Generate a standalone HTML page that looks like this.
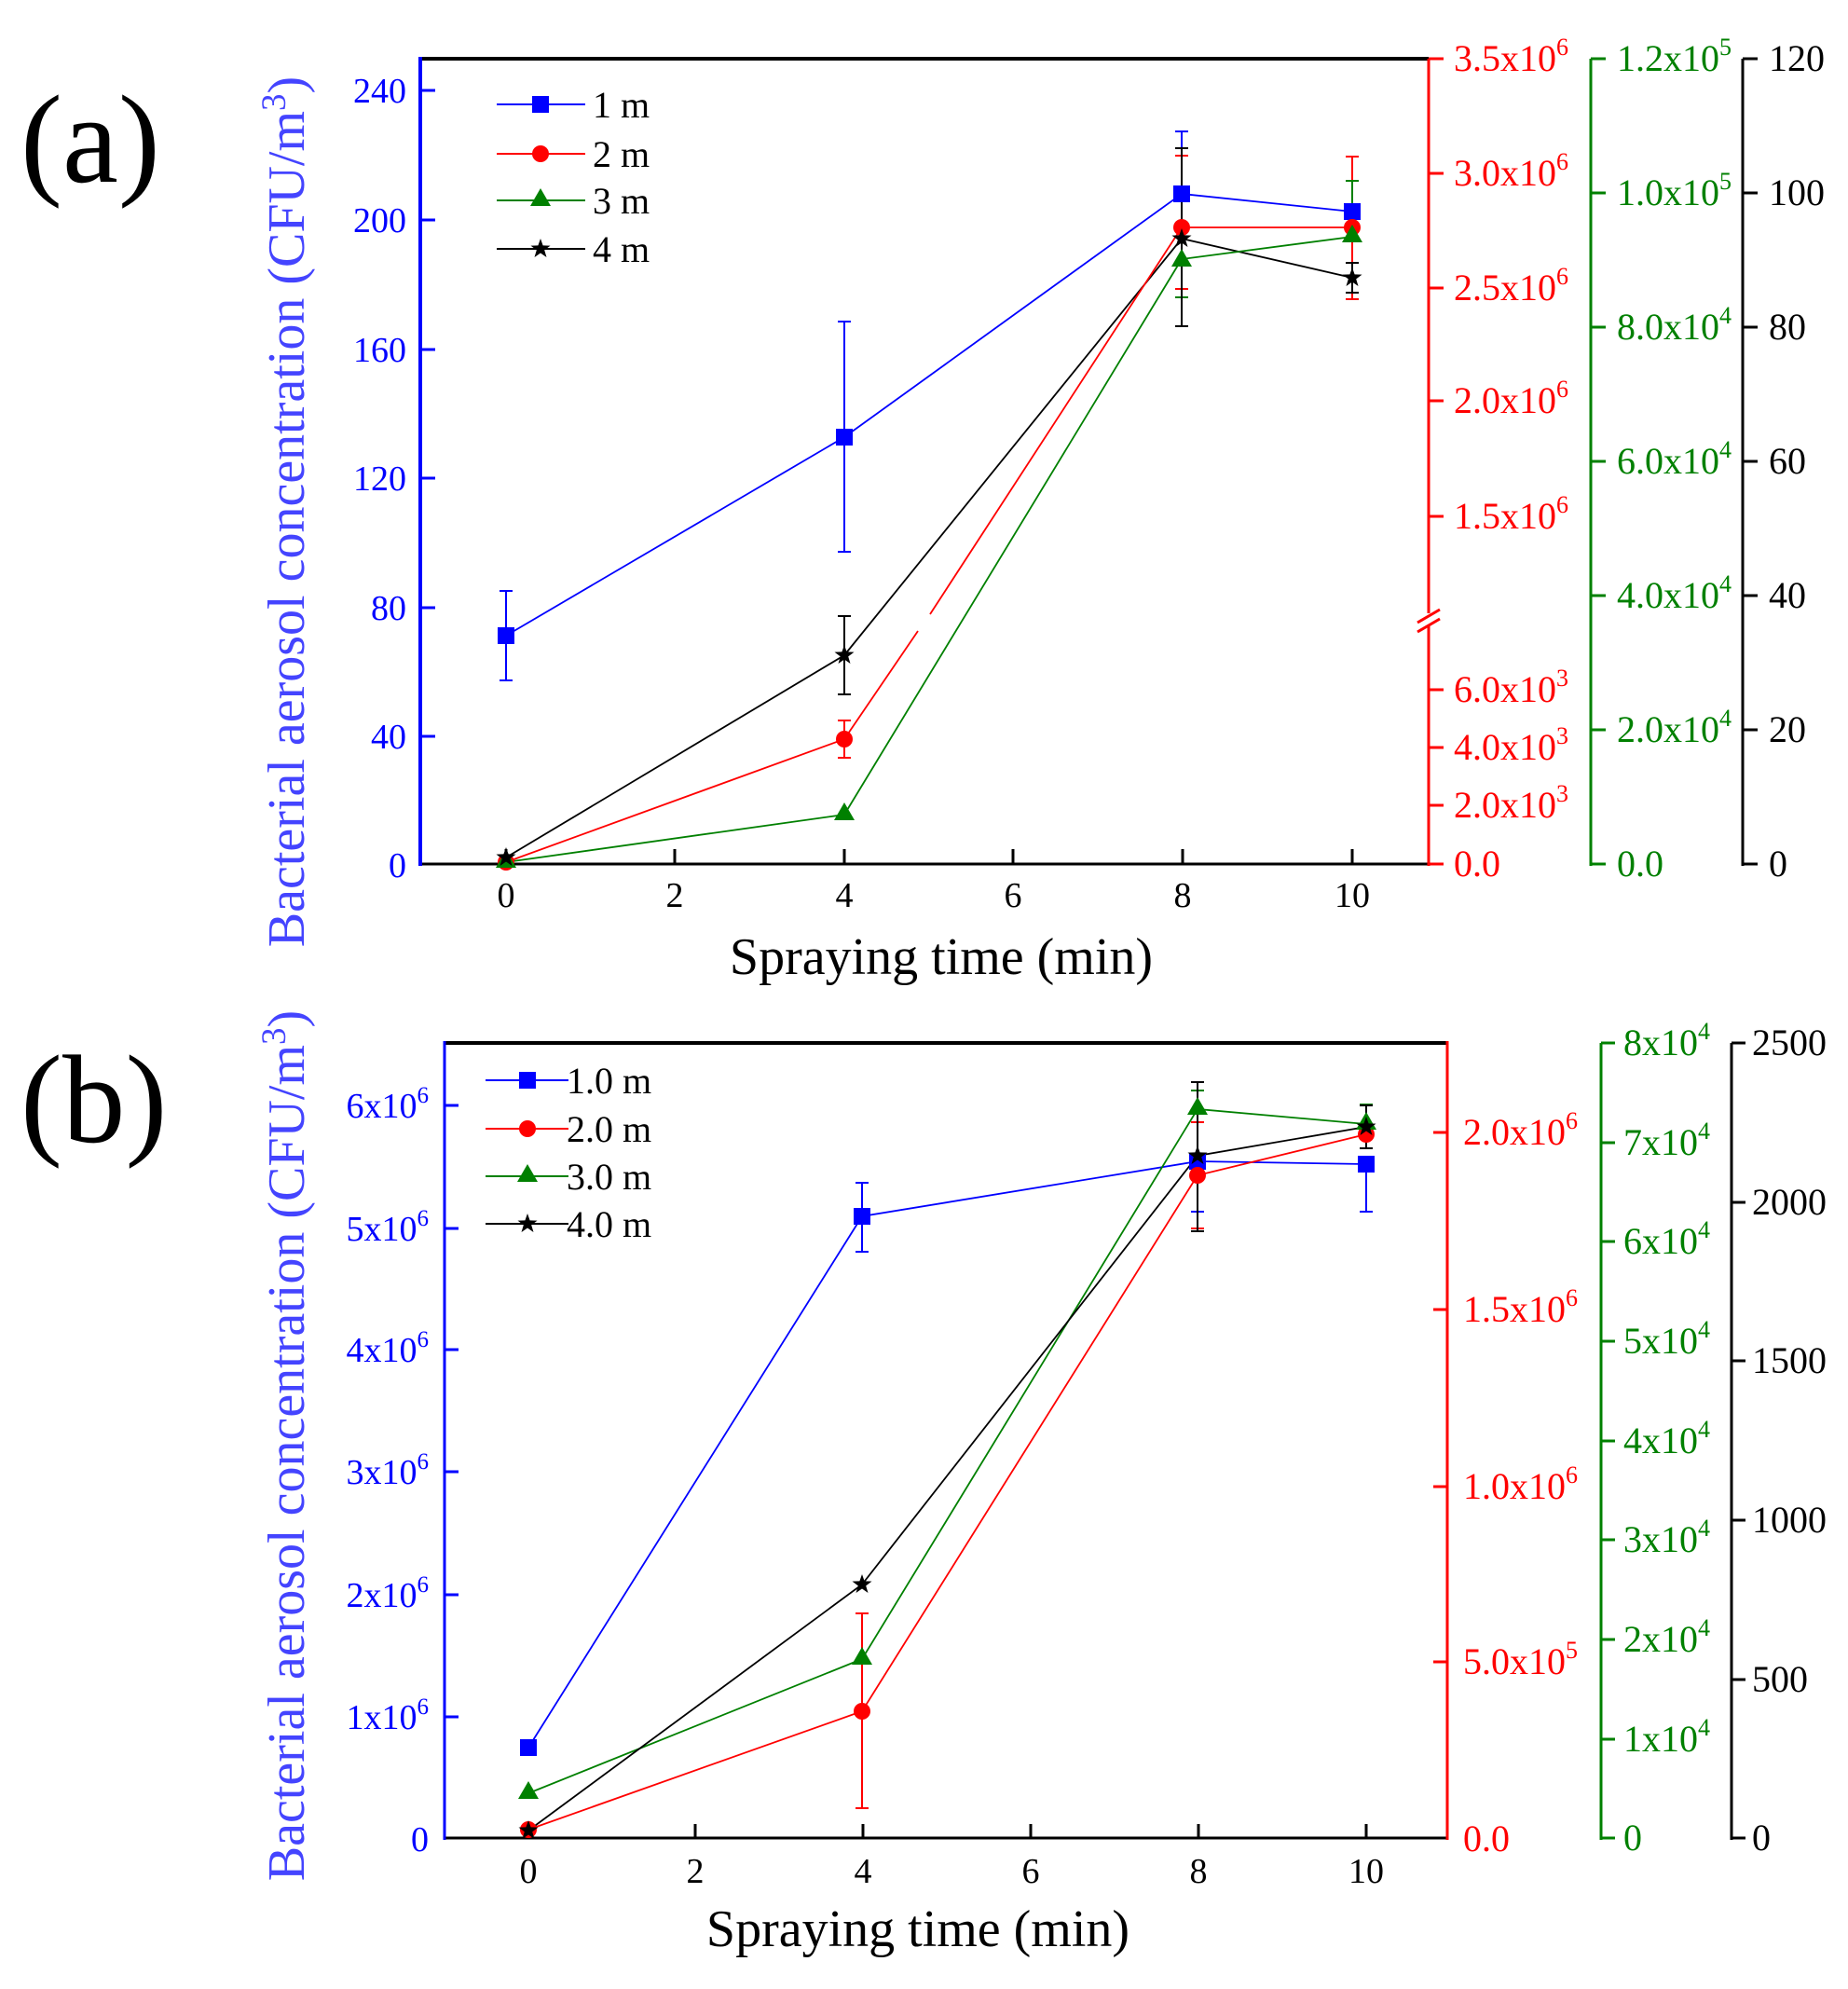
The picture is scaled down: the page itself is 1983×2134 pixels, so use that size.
<!DOCTYPE html>
<html><head><meta charset="utf-8"><style>
html,body{margin:0;padding:0;background:#fff;}
svg, svg text{font-family:"Liberation Serif","Times New Roman","DejaVu Serif",serif !important;}
</style></head><body>
<svg width="1983" height="2129" viewBox="0 0 1983 2129" xmlns="http://www.w3.org/2000/svg" font-family="Liberation Serif, Times New Roman, serif">
<defs>
<g id="sq"><rect x="-9" y="-9" width="18" height="18" fill="#0000ff"/></g>
<g id="ci"><circle r="9" fill="#ff0000"/></g>
<g id="tr"><polygon points="0,-11 11,8 -11,8" fill="#008000"/></g>
<g id="st"><polygon points="0,-11 2.6,-3.6 10.5,-3.4 4.2,1.4 6.5,9 0,4.5 -6.5,9 -4.2,1.4 -10.5,-3.4 -2.6,-3.6" fill="#000"/></g>
</defs>

<!-- ============ PANEL A ============ -->
<text x="22" y="195" font-size="135" fill="#000">(a)</text>
<text transform="translate(326,549) rotate(-90)" text-anchor="middle" font-size="56" fill="#4444ff">Bacterial aerosol concentration (CFU/m<tspan dy="-20" font-size="37">3</tspan><tspan dy="20">)</tspan></text>
<text x="1010" y="1045" text-anchor="middle" font-size="56" fill="#000">Spraying time (min)</text>

<line x1="451" y1="63" x2="1533" y2="63" stroke="#000" stroke-width="4"/>
<line x1="451" y1="927" x2="1533" y2="927" stroke="#000" stroke-width="3"/>
<line x1="451" y1="61" x2="451" y2="929" stroke="#0000ff" stroke-width="4"/>
<line x1="1533" y1="63" x2="1533" y2="658" stroke="#ff0000" stroke-width="3"/>
<line x1="1533" y1="672" x2="1533" y2="929" stroke="#ff0000" stroke-width="3"/>
<line x1="1521" y1="668" x2="1545" y2="654" stroke="#ff0000" stroke-width="3"/>
<line x1="1521" y1="678" x2="1545" y2="664" stroke="#ff0000" stroke-width="3"/>
<line x1="1707" y1="63" x2="1707" y2="929" stroke="#008000" stroke-width="3"/>
<line x1="1870" y1="63" x2="1870" y2="929" stroke="#000" stroke-width="3"/>

<g stroke="#0000ff" stroke-width="3">
<line x1="451" y1="97" x2="467" y2="97"/><line x1="451" y1="236" x2="467" y2="236"/>
<line x1="451" y1="375" x2="467" y2="375"/><line x1="451" y1="513" x2="467" y2="513"/>
<line x1="451" y1="652" x2="467" y2="652"/><line x1="451" y1="790" x2="467" y2="790"/>
</g>
<g fill="#0000ff" font-size="38" text-anchor="end">
<text x="436" y="110">240</text><text x="436" y="249">200</text><text x="436" y="388">160</text>
<text x="436" y="526">120</text><text x="436" y="665">80</text><text x="436" y="803">40</text><text x="436" y="941">0</text>
</g>
<g stroke="#000" stroke-width="3">
<line x1="543" y1="927" x2="543" y2="911"/><line x1="724" y1="927" x2="724" y2="911"/>
<line x1="906" y1="927" x2="906" y2="911"/><line x1="1087" y1="927" x2="1087" y2="911"/>
<line x1="1269" y1="927" x2="1269" y2="911"/><line x1="1451" y1="927" x2="1451" y2="911"/>
</g>
<g font-size="38" text-anchor="middle" fill="#000">
<text x="543" y="973">0</text><text x="724" y="973">2</text><text x="906" y="973">4</text>
<text x="1087" y="973">6</text><text x="1269" y="973">8</text><text x="1451" y="973">10</text>
</g>
<g stroke="#ff0000" stroke-width="3">
<line x1="1533" y1="63" x2="1549" y2="63"/><line x1="1533" y1="186" x2="1549" y2="186"/>
<line x1="1533" y1="309" x2="1549" y2="309"/><line x1="1533" y1="430" x2="1549" y2="430"/>
<line x1="1533" y1="554" x2="1549" y2="554"/><line x1="1533" y1="740" x2="1549" y2="740"/>
<line x1="1533" y1="802" x2="1549" y2="802"/><line x1="1533" y1="864" x2="1549" y2="864"/>
<line x1="1533" y1="927" x2="1549" y2="927"/>
</g>
<g fill="#ff0000" font-size="40">
<text x="1560" y="76">3.5x10<tspan dy="-17" font-size="26">6</tspan></text>
<text x="1560" y="199">3.0x10<tspan dy="-17" font-size="26">6</tspan></text>
<text x="1560" y="322">2.5x10<tspan dy="-17" font-size="26">6</tspan></text>
<text x="1560" y="443">2.0x10<tspan dy="-17" font-size="26">6</tspan></text>
<text x="1560" y="567">1.5x10<tspan dy="-17" font-size="26">6</tspan></text>
<text x="1560" y="753">6.0x10<tspan dy="-17" font-size="26">3</tspan></text>
<text x="1560" y="815">4.0x10<tspan dy="-17" font-size="26">3</tspan></text>
<text x="1560" y="877">2.0x10<tspan dy="-17" font-size="26">3</tspan></text>
<text x="1560" y="940">0.0</text>
</g>
<g stroke="#008000" stroke-width="3">
<line x1="1707" y1="63" x2="1723" y2="63"/><line x1="1707" y1="207" x2="1723" y2="207"/>
<line x1="1707" y1="351" x2="1723" y2="351"/><line x1="1707" y1="495" x2="1723" y2="495"/>
<line x1="1707" y1="639" x2="1723" y2="639"/><line x1="1707" y1="783" x2="1723" y2="783"/>
<line x1="1707" y1="927" x2="1723" y2="927"/>
</g>
<g fill="#008000" font-size="40">
<text x="1735" y="76">1.2x10<tspan dy="-17" font-size="26">5</tspan></text>
<text x="1735" y="220">1.0x10<tspan dy="-17" font-size="26">5</tspan></text>
<text x="1735" y="364">8.0x10<tspan dy="-17" font-size="26">4</tspan></text>
<text x="1735" y="508">6.0x10<tspan dy="-17" font-size="26">4</tspan></text>
<text x="1735" y="652">4.0x10<tspan dy="-17" font-size="26">4</tspan></text>
<text x="1735" y="796">2.0x10<tspan dy="-17" font-size="26">4</tspan></text>
<text x="1735" y="940">0.0</text>
</g>
<g stroke="#000" stroke-width="3">
<line x1="1870" y1="63" x2="1886" y2="63"/><line x1="1870" y1="207" x2="1886" y2="207"/>
<line x1="1870" y1="351" x2="1886" y2="351"/><line x1="1870" y1="495" x2="1886" y2="495"/>
<line x1="1870" y1="639" x2="1886" y2="639"/><line x1="1870" y1="783" x2="1886" y2="783"/>
<line x1="1870" y1="927" x2="1886" y2="927"/>
</g>
<g fill="#000" font-size="40">
<text x="1898" y="76">120</text><text x="1898" y="220">100</text><text x="1898" y="364">80</text>
<text x="1898" y="508">60</text><text x="1898" y="652">40</text><text x="1898" y="796">20</text><text x="1898" y="940">0</text>
</g>

<g stroke-width="1.8" fill="none">
<polyline stroke="#0000ff" points="543,682 906,469 1268,208 1451,227"/>
<polyline stroke="#000" points="543,920 906,703 1268,256 1451,298"/>
<polyline stroke="#008000" points="543,925 906,874 1268,278 1451,254"/>
<polyline stroke="#ff0000" points="543,925 906,793 985,677"/>
<polyline stroke="#ff0000" points="998,659 1268,244 1451,244"/>
</g>
<g stroke-width="2" fill="none">
<path stroke="#0000ff" d="M543,634V730M536,634H550M536,730H550 M906,345V592M899,345H913M899,592H913 M1268,141V208M1261,141H1275 M1451,218V236"/>
<path stroke="#ff0000" d="M906,773V813M899,773H913M899,813H913 M1268,167V310M1261,167H1275M1261,310H1275 M1451,168V321M1444,168H1458M1444,321H1458"/>
<path stroke="#008000" d="M1268,255V319M1261,319H1275 M1451,194V254M1444,194H1458"/>
<path stroke="#000" d="M906,661V745M899,661H913M899,745H913 M1268,159V350M1261,159H1275M1261,350H1275 M1451,282V314M1444,282H1458M1444,314H1458"/>
</g>
<g>
<use href="#sq" x="543" y="682"/><use href="#sq" x="906" y="469"/><use href="#sq" x="1268" y="208"/><use href="#sq" x="1451" y="227"/>
<use href="#ci" x="543" y="925"/><use href="#ci" x="906" y="793"/><use href="#ci" x="1268" y="244"/><use href="#ci" x="1451" y="244"/>
<use href="#tr" x="543" y="923"/><use href="#tr" x="906" y="872"/><use href="#tr" x="1268" y="278"/><use href="#tr" x="1451" y="252"/>
<use href="#st" x="543" y="920"/><use href="#st" x="906" y="703"/><use href="#st" x="1268" y="256"/><use href="#st" x="1451" y="298"/>
</g>
<g stroke-width="2">
<line x1="533" y1="112" x2="628" y2="112" stroke="#0000ff"/>
<line x1="533" y1="165" x2="628" y2="165" stroke="#ff0000"/>
<line x1="533" y1="215" x2="628" y2="215" stroke="#008000"/>
<line x1="533" y1="267" x2="628" y2="267" stroke="#000"/>
</g>
<use href="#sq" x="580" y="112"/><use href="#ci" x="580" y="165"/><use href="#tr" x="580" y="213"/><use href="#st" x="580" y="267"/>
<g font-size="40" fill="#000">
<text x="636" y="126">1 m</text><text x="636" y="179">2 m</text><text x="636" y="229">3 m</text><text x="636" y="281">4 m</text>
</g>

<!-- ============ PANEL B ============ -->
<text x="22" y="1225" font-size="135" fill="#000">(b)</text>
<text transform="translate(326,1551) rotate(-90)" text-anchor="middle" font-size="56" fill="#4444ff">Bacterial aerosol concentration (CFU/m<tspan dy="-20" font-size="37">3</tspan><tspan dy="20">)</tspan></text>
<text x="985" y="2088" text-anchor="middle" font-size="56" fill="#000">Spraying time (min)</text>

<line x1="477" y1="1119" x2="1553" y2="1119" stroke="#000" stroke-width="4"/>
<line x1="477" y1="1972" x2="1553" y2="1972" stroke="#000" stroke-width="3"/>
<line x1="477" y1="1117" x2="477" y2="1974" stroke="#0000ff" stroke-width="3"/>
<line x1="1553" y1="1117" x2="1553" y2="1974" stroke="#ff0000" stroke-width="3"/>
<line x1="1718" y1="1119" x2="1718" y2="1974" stroke="#008000" stroke-width="3"/>
<line x1="1858" y1="1119" x2="1858" y2="1974" stroke="#000" stroke-width="3"/>

<g stroke="#0000ff" stroke-width="3">
<line x1="477" y1="1186" x2="492" y2="1186"/><line x1="477" y1="1318" x2="492" y2="1318"/>
<line x1="477" y1="1448" x2="492" y2="1448"/><line x1="477" y1="1579" x2="492" y2="1579"/>
<line x1="477" y1="1711" x2="492" y2="1711"/><line x1="477" y1="1842" x2="492" y2="1842"/>
</g>
<g fill="#0000ff" font-size="38" text-anchor="end">
<text x="460" y="1199">6x10<tspan dy="-16" font-size="25">6</tspan></text>
<text x="460" y="1331">5x10<tspan dy="-16" font-size="25">6</tspan></text>
<text x="460" y="1461">4x10<tspan dy="-16" font-size="25">6</tspan></text>
<text x="460" y="1592">3x10<tspan dy="-16" font-size="25">6</tspan></text>
<text x="460" y="1724">2x10<tspan dy="-16" font-size="25">6</tspan></text>
<text x="460" y="1855">1x10<tspan dy="-16" font-size="25">6</tspan></text>
<text x="460" y="1986">0</text>
</g>
<g stroke="#000" stroke-width="3">
<line x1="567" y1="1972" x2="567" y2="1957"/><line x1="746" y1="1972" x2="746" y2="1957"/>
<line x1="926" y1="1972" x2="926" y2="1957"/><line x1="1106" y1="1972" x2="1106" y2="1957"/>
<line x1="1286" y1="1972" x2="1286" y2="1957"/><line x1="1466" y1="1972" x2="1466" y2="1957"/>
</g>
<g font-size="38" text-anchor="middle" fill="#000">
<text x="567" y="2020">0</text><text x="746" y="2020">2</text><text x="926" y="2020">4</text>
<text x="1106" y="2020">6</text><text x="1286" y="2020">8</text><text x="1466" y="2020">10</text>
</g>
<g stroke="#ff0000" stroke-width="3">
<line x1="1553" y1="1215" x2="1538" y2="1215"/><line x1="1553" y1="1405" x2="1538" y2="1405"/>
<line x1="1553" y1="1595" x2="1538" y2="1595"/><line x1="1553" y1="1783" x2="1538" y2="1783"/>
</g>
<g fill="#ff0000" font-size="40">
<text x="1570" y="1228">2.0x10<tspan dy="-17" font-size="26">6</tspan></text>
<text x="1570" y="1418">1.5x10<tspan dy="-17" font-size="26">6</tspan></text>
<text x="1570" y="1608">1.0x10<tspan dy="-17" font-size="26">6</tspan></text>
<text x="1570" y="1796">5.0x10<tspan dy="-17" font-size="26">5</tspan></text>
<text x="1570" y="1986">0.0</text>
</g>
<g stroke="#008000" stroke-width="3">
<line x1="1718" y1="1119" x2="1733" y2="1119"/><line x1="1718" y1="1226" x2="1733" y2="1226"/>
<line x1="1718" y1="1332" x2="1733" y2="1332"/><line x1="1718" y1="1439" x2="1733" y2="1439"/>
<line x1="1718" y1="1546" x2="1733" y2="1546"/><line x1="1718" y1="1652" x2="1733" y2="1652"/>
<line x1="1718" y1="1759" x2="1733" y2="1759"/><line x1="1718" y1="1866" x2="1733" y2="1866"/>
<line x1="1718" y1="1972" x2="1733" y2="1972"/>
</g>
<g fill="#008000" font-size="40">
<text x="1742" y="1132">8x10<tspan dy="-17" font-size="26">4</tspan></text>
<text x="1742" y="1239">7x10<tspan dy="-17" font-size="26">4</tspan></text>
<text x="1742" y="1345">6x10<tspan dy="-17" font-size="26">4</tspan></text>
<text x="1742" y="1452">5x10<tspan dy="-17" font-size="26">4</tspan></text>
<text x="1742" y="1559">4x10<tspan dy="-17" font-size="26">4</tspan></text>
<text x="1742" y="1665">3x10<tspan dy="-17" font-size="26">4</tspan></text>
<text x="1742" y="1772">2x10<tspan dy="-17" font-size="26">4</tspan></text>
<text x="1742" y="1879">1x10<tspan dy="-17" font-size="26">4</tspan></text>
<text x="1742" y="1985">0</text>
</g>
<g stroke="#000" stroke-width="3">
<line x1="1858" y1="1119" x2="1873" y2="1119"/><line x1="1858" y1="1290" x2="1873" y2="1290"/>
<line x1="1858" y1="1460" x2="1873" y2="1460"/><line x1="1858" y1="1631" x2="1873" y2="1631"/>
<line x1="1858" y1="1802" x2="1873" y2="1802"/><line x1="1858" y1="1972" x2="1873" y2="1972"/>
</g>
<g fill="#000" font-size="40">
<text x="1880" y="1132">2500</text><text x="1880" y="1303">2000</text><text x="1880" y="1473">1500</text>
<text x="1880" y="1644">1000</text><text x="1880" y="1815">500</text><text x="1880" y="1985">0</text>
</g>

<g stroke-width="1.8" fill="none">
<polyline stroke="#0000ff" points="567,1875 925,1305 1285,1246 1466,1249"/>
<polyline stroke="#ff0000" points="567,1963 925,1836 1285,1261 1466,1217"/>
<polyline stroke="#008000" points="567,1924 925,1780 1285,1190 1466,1206"/>
<polyline stroke="#000" points="567,1964 925,1700 1285,1240 1466,1209"/>
</g>
<g stroke-width="2" fill="none">
<path stroke="#0000ff" d="M925,1269V1343M918,1269H932M918,1343H932 M1285,1246V1300M1278,1300H1292 M1466,1249V1300M1459,1300H1473"/>
<path stroke="#ff0000" d="M925,1731V1940M918,1731H932M918,1940H932 M1285,1204V1318M1278,1204H1292M1278,1318H1292 M1466,1200V1230"/>
<path stroke="#008000" d="M1285,1170V1210M1278,1170H1292 M1466,1185V1225M1459,1185H1473"/>
<path stroke="#000" d="M1285,1161V1321M1278,1161H1292M1278,1321H1292 M1466,1186V1232M1459,1186H1473M1459,1232H1473"/>
</g>
<g>
<use href="#sq" x="567" y="1875"/><use href="#sq" x="925" y="1305"/><use href="#sq" x="1285" y="1246"/><use href="#sq" x="1466" y="1249"/>
<use href="#ci" x="567" y="1963"/><use href="#ci" x="925" y="1836"/><use href="#ci" x="1285" y="1261"/><use href="#ci" x="1466" y="1217"/>
<use href="#tr" x="567" y="1922"/><use href="#tr" x="925" y="1778"/><use href="#tr" x="1285" y="1188"/><use href="#tr" x="1466" y="1204"/>
<use href="#st" x="567" y="1964"/><use href="#st" x="925" y="1700"/><use href="#st" x="1285" y="1240"/><use href="#st" x="1466" y="1209"/>
</g>
<g stroke-width="2">
<line x1="521" y1="1159" x2="610" y2="1159" stroke="#0000ff"/>
<line x1="521" y1="1211" x2="610" y2="1211" stroke="#ff0000"/>
<line x1="521" y1="1262" x2="610" y2="1262" stroke="#008000"/>
<line x1="521" y1="1313" x2="610" y2="1313" stroke="#000"/>
</g>
<use href="#sq" x="566" y="1159"/><use href="#ci" x="566" y="1211"/><use href="#tr" x="566" y="1260"/><use href="#st" x="566" y="1313"/>
<g font-size="40" fill="#000">
<text x="608" y="1173">1.0 m</text><text x="608" y="1225">2.0 m</text><text x="608" y="1276">3.0 m</text><text x="608" y="1327">4.0 m</text>
</g>
</svg>
</body></html>
